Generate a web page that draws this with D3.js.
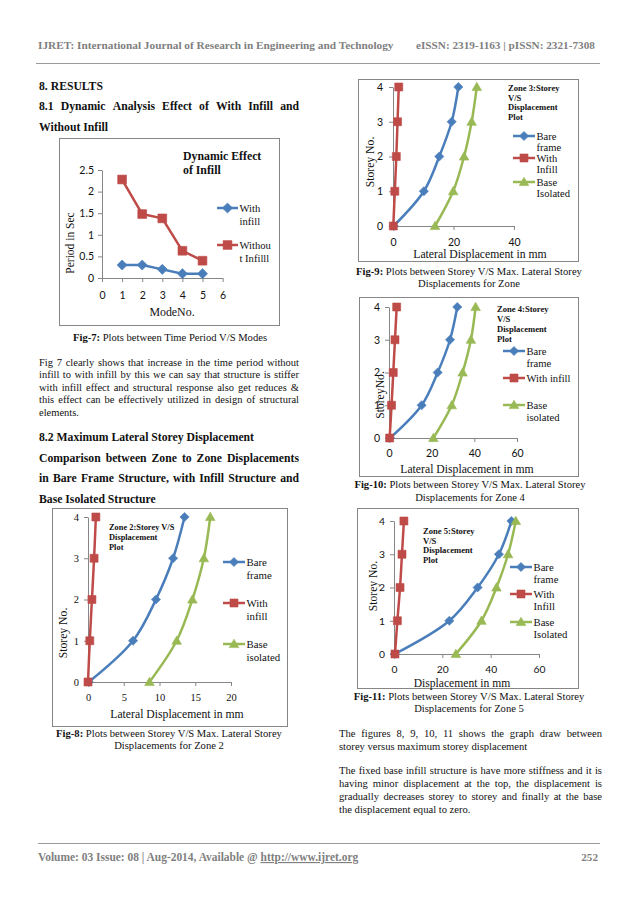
<!DOCTYPE html>
<html><head><meta charset="utf-8">
<script src="https://cdn.jsdelivr.net/npm/d3@7"></script>
<style>html,body{margin:0;padding:0;background:#fff;} svg{display:block;}</style>
</head><body>
<svg id="page" width="638" height="902"></svg>
<script>
// ---------------- DATA ----------------
const fig7Modes = [1, 2, 3, 4, 5];
const fig7WithInfill = [0.3, 0.3, 0.2, 0.1, 0.1];
const fig7WithoutInfill = [2.28, 1.48, 1.38, 0.63, 0.4];
const fig7XTicks = [0, 1, 2, 3, 4, 5, 6];
const fig7YTicks = [0, 0.5, 1, 1.5, 2, 2.5];

const storeys = [0, 1, 2, 3, 4];
const storeyTicks = [0, 1, 2, 3, 4];

const z2Bare = [0.1, 6.3, 9.5, 11.9, 13.5];
const z2Infill = [0, 0.25, 0.55, 0.85, 1.1];
const z2Base = [8.6, 12.4, 14.6, 16.2, 17.1];
const z2XTicks = [0, 5, 10, 15, 20];

const z3Bare = [0.2, 10.2, 15.3, 19.4, 21.6];
const z3Infill = [0.1, 0.6, 1.1, 1.5, 1.9];
const z3Base = [13.9, 19.9, 23.5, 26.0, 27.7];
const z3XTicks = [0, 20, 40];

const z4Bare = [0.5, 15.3, 22.8, 28.6, 32.0];
const z4Infill = [0.3, 1.2, 2.0, 2.8, 3.6];
const z4Base = [20.8, 29.4, 34.5, 38.4, 40.6];
const z4XTicks = [0, 20, 40, 60];

const z5Bare = [0.3, 22.9, 34.6, 43.4, 48.6];
const z5Infill = [0.4, 1.4, 2.5, 3.3, 4.1];
const z5Base = [25.6, 36.2, 42.4, 47.2, 50.4];
const z5XTicks = [0, 20, 40, 60];

const fig7Legend = [["With", "infill"], ["Withou", "t Infilll"]];
const z2Legend = [["Bare", "frame"], ["With", "infill"], ["Base", "isolated"]];
const z3Legend = [["Bare", "frame"], ["With", "Infill"], ["Base", "Isolated"]];
const z4Legend = [["Bare", "frame"], ["With infill"], ["Base", "isolated"]];
const z5Legend = [["Bare", "frame"], ["With", "Infill"], ["Base", "Isolated"]];

const fig7Title = ["Dynamic Effect", "of Infill"];
const z2Title = ["Zone 2:Storey V/S", "Displacement", "Plot"];
const z3Title = ["Zone 3:Storey", "V/S", "Displacement", "Plot"];
const z4Title = ["Zone 4:Storey", "V/S", "Displacement", "Plot"];
const z5Title = ["Zone 5:Storey", "V/S", "Displacement", "Plot"];

// ---------------- STYLE ----------------
const SERIF = "'Liberation Serif','Times New Roman',serif";
const SANS = "Lato,'Liberation Sans',sans-serif";
const BLUE = "#4A7EBB", RED = "#BE4B48", GREEN = "#98B954";
const AXIS = "#868686";
const TXT = "#111";

const svg = d3.select("#page");
svg.append("rect").attr("width", 638).attr("height", 902).attr("fill", "#fff");

function txt(x, y, s, o = {}) {
  return svg.append("text").attr("x", x).attr("y", y).text(s)
    .attr("font-family", o.ff || SERIF).attr("font-size", o.fs || 10.6)
    .attr("font-weight", o.fw || "normal").attr("fill", o.fill || TXT)
    .attr("text-anchor", o.anchor || "start");
}
function fit(t, w) {
  const cur = t.node().getComputedTextLength();
  const fs = +t.attr("font-size");
  t.attr("font-size", fs * w / cur);
  return t;
}
function justify(x0, x1, y, s, o = {}) {
  const t = svg.append("text").attr("y", y)
    .attr("font-family", o.ff || SERIF).attr("font-size", o.fs || 10.6)
    .attr("font-weight", o.fw || "normal").attr("fill", o.fill || TXT);
  const words = s.split(/\s+/);
  words.forEach(w => t.append("tspan").text(w));
  const nodes = t.selectAll("tspan").nodes();
  const widths = nodes.map(n => n.getComputedTextLength());
  const gap = (x1 - x0 - d3.sum(widths)) / (words.length - 1);
  let x = x0;
  nodes.forEach((n, i) => { d3.select(n).attr("x", x); x += widths[i] + gap; });
}
function caption(cx, y, bold, rest) {
  const t = svg.append("text").attr("x", cx).attr("y", y).attr("text-anchor", "middle")
    .attr("font-family", SERIF).attr("font-size", 10.6).attr("fill", TXT);
  if (bold) t.append("tspan").attr("font-weight", "bold").text(bold);
  t.append("tspan").text(rest);
}

// marker shapes
function marker(g, kind, cx, cy, color, scale = 1) {
  let p;
  if (kind === "diamond") { const r = 4.6 * scale; p = `M${cx},${cy - r}L${cx + r},${cy}L${cx},${cy + r}L${cx - r},${cy}Z`; }
  else if (kind === "square") { const r = 4 * scale; p = `M${cx - r},${cy - r}h${2 * r}v${2 * r}h${-2 * r}Z`; }
  else { const r = 4.8 * scale; p = `M${cx},${cy - r}L${cx + r},${cy + r * 0.75}L${cx - r},${cy + r * 0.75}Z`; }
  g.append("path").attr("d", p).attr("fill", color).attr("stroke", color).attr("stroke-width", 0.6);
}

function drawChart(L) {
  const g = svg.append("g");
  const [bx0, by0, bx1, by1] = L.box;
  g.append("rect").attr("x", bx0 + 0.5).attr("y", by0 + 0.5)
    .attr("width", bx1 - bx0).attr("height", by1 - by0)
    .attr("fill", "#fff").attr("stroke", AXIS).attr("stroke-width", 1);

  const x = d3.scaleLinear().domain(L.xd).range(L.xr);
  const y = d3.scaleLinear().domain(L.yd).range(L.yr);
  const ts = 4;

  const xa = g.append("g").attr("transform", `translate(0,${L.yr[0]})`)
    .call(d3.axisBottom(x).tickValues(L.xTicks).tickFormat(d3.format("")).tickSize(ts).tickSizeOuter(0)
      .tickPadding(L.xBase - L.yr[0] - ts - 0.71 * L.tfs));
  const ya = g.append("g").attr("transform", `translate(${L.xr[0]},0)`)
    .call(d3.axisLeft(y).tickValues(L.yTicks).tickFormat(d3.format("")).tickSize(ts).tickSizeOuter(0)
      .tickPadding(L.xr[0] - ts - L.yRight));
  [xa, ya].forEach(a => {
    a.select(".domain").attr("stroke", AXIS).attr("stroke-width", 1);
    a.selectAll(".tick line").attr("stroke", AXIS);
    a.selectAll(".tick text").attr("font-family", L.tff).attr("font-size", L.tfs).attr("fill", TXT);
  });

  // series
  L.series.forEach(s => {
    const pts = s.xs.map((v, i) => [x(v), y(s.ys[i])]);
    g.append("path").attr("d", d3.line().curve(L.curve)(pts))
      .attr("fill", "none").attr("stroke", s.color).attr("stroke-width", 2.5)
      .attr("stroke-linejoin", "round");
    pts.forEach(p => marker(g, s.kind, p[0], p[1], s.color, L.ms || 1));
  });

  // legend
  L.series.forEach((s, i) => {
    const ly = L.legY[i];
    g.append("line").attr("x1", L.legX[0]).attr("x2", L.legX[1]).attr("y1", ly).attr("y2", ly)
      .attr("stroke", s.color).attr("stroke-width", 2.5);
    marker(g, s.kind, (L.legX[0] + L.legX[1]) / 2, ly, s.color, L.ms || 1);
    s.label.forEach((ln, j) => {
      g.append("text").attr("x", L.legX[1] + 1.5).attr("y", ly + 3.8 + j * L.legLH).text(ln)
        .attr("font-family", SERIF).attr("font-size", L.lfs).attr("fill", TXT);
    });
  });

  // title
  L.title.forEach((ln, j) => {
    g.append("text").attr("x", L.titleX).attr("y", L.titleY + j * L.titleLH).text(ln)
      .attr("font-family", SERIF).attr("font-weight", "bold").attr("font-size", L.titleFs).attr("fill", TXT);
  });

  // axis titles
  g.append("text").attr("transform", `translate(${L.yTitle[0]},${L.yTitle[1]}) rotate(-90)`)
    .attr("text-anchor", "middle").attr("dy", "0.35em").text(L.yTitleText)
    .attr("font-family", SERIF).attr("font-size", L.atfs).attr("fill", TXT);
  g.append("text").attr("x", L.xTitle[0]).attr("y", L.xTitle[1])
    .attr("text-anchor", "middle").attr("dy", "0.35em").text(L.xTitleText)
    .attr("font-family", SERIF).attr("font-size", L.atfs2 || L.atfs).attr("fill", TXT);
}

const smooth = d3.curveCatmullRom.alpha(0.5);

// ---------------- HEADER ----------------
fit(txt(38, 49, "IJRET: International Journal of Research in Engineering and Technology", { fw: "bold", fs: 12, fill: "#7f7f7f" }), 356);
fit(txt(416, 49, "eISSN: 2319-1163 | pISSN: 2321-7308", { fw: "bold", fs: 12, fill: "#7f7f7f" }), 179);
svg.append("line").attr("x1", 36).attr("x2", 600).attr("y1", 63.5).attr("y2", 63.5).attr("stroke", "#9a9a9a").attr("stroke-width", 1.2);

// ---------------- LEFT COLUMN TEXT ----------------
txt(39, 90, "8. RESULTS", { fw: "bold", fs: 11.7 });
justify(39, 299, 110, "8.1 Dynamic Analysis Effect of With Infill and", { fw: "bold", fs: 11.7 });
txt(39, 131, "Without Infill", { fw: "bold", fs: 11.7 });

caption(170, 341, "Fig-7:", " Plots between Time Period V/S Modes");

const para1 = [
  "Fig  7 clearly shows that increase in the time period without",
  "infill to with infill by this we can say that structure is stiffer",
  "with infill effect and structural response  also get reduces &",
  "this effect can be effectively utilized in design of structural"
];
para1.forEach((s, i) => justify(39, 299, 365.5 + i * 12.5, s, { fs: 10.5 }));
txt(39, 415.5, "elements.", { fs: 10.5 });

txt(39, 441, "8.2 Maximum Lateral Storey Displacement", { fw: "bold", fs: 11.7 });
justify(39, 299, 461.5, "Comparison between Zone to Zone Displacements", { fw: "bold", fs: 11.7 });
justify(39, 299, 482, "in Bare Frame Structure, with Infill Structure and", { fw: "bold", fs: 11.7 });
txt(39, 502.5, "Base Isolated Structure", { fw: "bold", fs: 11.7 });

caption(169, 737, "Fig-8:", " Plots between Storey V/S Max. Lateral Storey");
caption(169, 749, "", "Displacements for Zone 2");

// ---------------- RIGHT COLUMN TEXT ----------------
caption(469, 274.5, "Fig-9:", " Plots between Storey V/S Max. Lateral Storey");
caption(469, 287, "", "Displacements for Zone");
caption(470, 488, "Fig-10:", " Plots between Storey V/S Max. Lateral Storey");
caption(470, 501, "", "Displacements for Zone 4");
caption(469, 700, "Fig-11:", " Plots between Storey V/S Max. Lateral Storey");
caption(469, 712, "", "Displacements for Zone 5");

justify(339, 602, 737, "The figures 8, 9, 10, 11 shows the graph draw between", { fs: 10.6 });
txt(339, 750, "storey versus maximum storey displacement", { fs: 10.6 });
justify(339, 602, 774, "The fixed base infill structure is have more stiffness and it is", { fs: 10.6 });
justify(339, 602, 787, "having minor displacement at the top, the displacement is", { fs: 10.6 });
justify(339, 602, 800, "gradually decreases storey to storey and finally at the base", { fs: 10.6 });
txt(339, 812.5, "the displacement equal to zero.", { fs: 10.6 });

// ---------------- FOOTER ----------------
svg.append("line").attr("x1", 38).attr("x2", 600).attr("y1", 843.5).attr("y2", 843.5).attr("stroke", "#9a9a9a").attr("stroke-width", 1.2);
const ft = svg.append("text").attr("x", 38).attr("y", 861).attr("font-family", SERIF)
  .attr("font-weight", "bold").attr("font-size", 11.2).attr("fill", "#7f7f7f");
ft.append("tspan").text("Volume: 03 Issue: 08 | Aug-2014, Available @ ");
ft.append("tspan").attr("text-decoration", "underline").text("http://www.ijret.org");
fit(ft, 320);
txt(598, 861, "252", { fw: "bold", fs: 11.2, fill: "#7f7f7f", anchor: "end" });

// ---------------- CHARTS ----------------
drawChart({
  box: [59, 138, 279, 325], xr: [102, 222.6], yr: [278, 170], xd: [0, 6], yd: [0, 2.5],
  xTicks: fig7XTicks, yTicks: fig7YTicks, xBase: 299, yRight: 94, tff: SANS, tfs: 10.5,
  curve: d3.curveLinear, ms: 1.1,
  series: [
    { xs: fig7Modes, ys: fig7WithInfill, color: BLUE, kind: "diamond", label: fig7Legend[0] },
    { xs: fig7Modes, ys: fig7WithoutInfill, color: RED, kind: "square", label: fig7Legend[1] }
  ],
  legX: [217, 238], legY: [208, 245], legLH: 13, lfs: 10.6,
  title: fig7Title, titleX: 183, titleY: 160, titleLH: 13.5, titleFs: 11.8,
  yTitle: [70, 243], yTitleText: "Period in Sec", xTitle: [172, 312], xTitleText: "ModeNo.", atfs: 11.5, atfs2: 11.9
});

drawChart({
  box: [52, 508, 287, 726], xr: [88, 231], yr: [682, 517], xd: [0, 20], yd: [0, 4],
  xTicks: z2XTicks, yTicks: storeyTicks, xBase: 701, yRight: 79, tff: SERIF, tfs: 10.5,
  curve: smooth,
  series: [
    { xs: z2Bare, ys: storeys, color: BLUE, kind: "diamond", label: z2Legend[0] },
    { xs: z2Infill, ys: storeys, color: RED, kind: "square", label: z2Legend[1] },
    { xs: z2Base, ys: storeys, color: GREEN, kind: "triangle", label: z2Legend[2] }
  ],
  legX: [223, 245], legY: [562, 603, 644], legLH: 13.5, lfs: 10.8,
  title: z2Title, titleX: 109, titleY: 530, titleLH: 10, titleFs: 8.4,
  yTitle: [63, 633], yTitleText: "Storey No.", xTitle: [177, 714], xTitleText: "Lateral Displacement in mm", atfs: 11.7
});

drawChart({
  box: [358, 79, 578, 261], xr: [393, 514], yr: [226, 87], xd: [0, 40], yd: [0, 4],
  xTicks: z3XTicks, yTicks: storeyTicks, xBase: 246, yRight: 383, tff: SANS, tfs: 10.5,
  curve: smooth,
  series: [
    { xs: z3Bare, ys: storeys, color: BLUE, kind: "diamond", label: z3Legend[0] },
    { xs: z3Infill, ys: storeys, color: RED, kind: "square", label: z3Legend[1] },
    { xs: z3Base, ys: storeys, color: GREEN, kind: "triangle", label: z3Legend[2] }
  ],
  legX: [513, 535], legY: [136, 158, 182], legLH: 11.5, lfs: 10.6,
  title: z3Title, titleX: 508, titleY: 91, titleLH: 9.6, titleFs: 8.6,
  yTitle: [370, 162], yTitleText: "Storey No.", xTitle: [480, 254], xTitleText: "Lateral Displacement in mm", atfs: 11.7
});

drawChart({
  box: [359, 297, 578, 476], xr: [389, 517], yr: [438, 307], xd: [0, 60], yd: [0, 4],
  xTicks: z4XTicks, yTicks: storeyTicks, xBase: 456.5, yRight: 380, tff: SANS, tfs: 10.5,
  curve: smooth,
  series: [
    { xs: z4Bare, ys: storeys, color: BLUE, kind: "diamond", label: z4Legend[0] },
    { xs: z4Infill, ys: storeys, color: RED, kind: "square", label: z4Legend[1] },
    { xs: z4Base, ys: storeys, color: GREEN, kind: "triangle", label: z4Legend[2] }
  ],
  legX: [503, 525], legY: [351, 378, 405], legLH: 12, lfs: 10.6,
  title: z4Title, titleX: 497, titleY: 312, titleLH: 10, titleFs: 8.6,
  yTitle: [380, 395], yTitleText: "StoreyNo.", xTitle: [467, 468.5], xTitleText: "Lateral Displacement in mm", atfs: 11.7
});

drawChart({
  box: [357, 508, 578, 688], xr: [394, 539], yr: [654, 521], xd: [0, 60], yd: [0, 4],
  xTicks: z5XTicks, yTicks: storeyTicks, xBase: 672.5, yRight: 385, tff: SANS, tfs: 10.3,
  curve: smooth,
  series: [
    { xs: z5Bare, ys: storeys, color: BLUE, kind: "diamond", label: z5Legend[0] },
    { xs: z5Infill, ys: storeys, color: RED, kind: "square", label: z5Legend[1] },
    { xs: z5Base, ys: storeys, color: GREEN, kind: "triangle", label: z5Legend[2] }
  ],
  legX: [510, 532], legY: [567, 594, 622], legLH: 12.5, lfs: 10.7,
  title: z5Title, titleX: 423, titleY: 534, titleLH: 9.7, titleFs: 8.6,
  yTitle: [373, 586], yTitleText: "Storey No.", xTitle: [462, 682.5], xTitleText: "Displacement in mm", atfs: 11.6
});
</script>
</body></html>
